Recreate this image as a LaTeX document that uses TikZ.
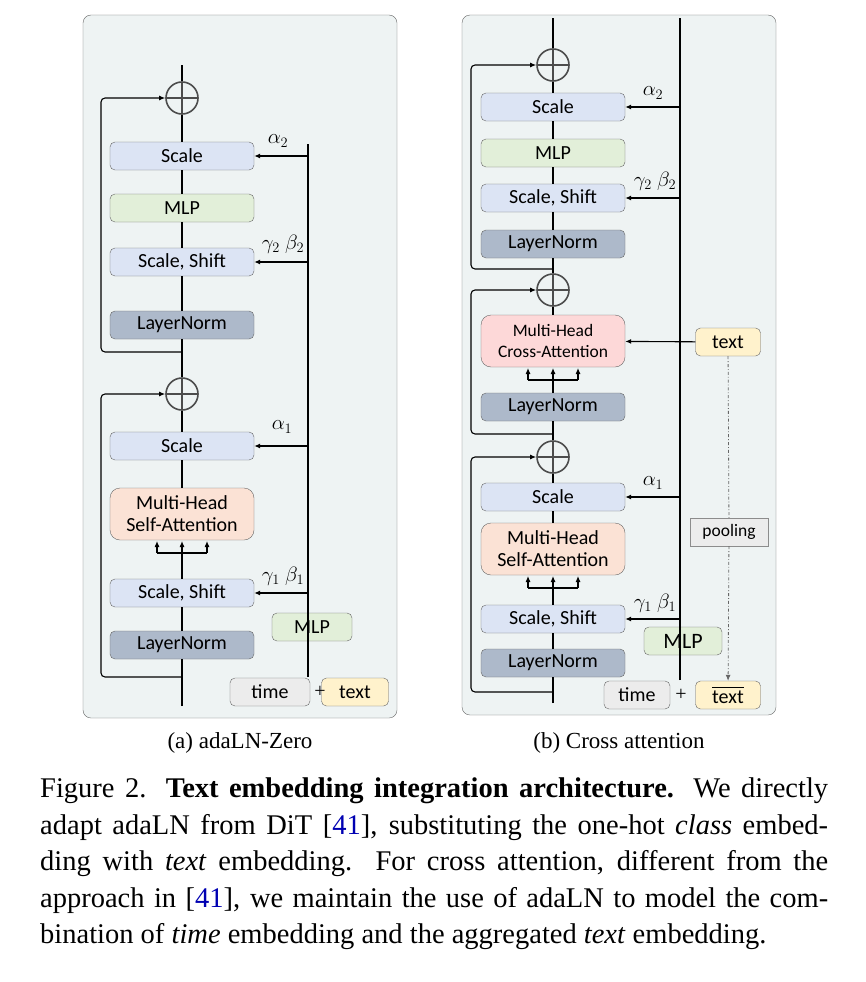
\documentclass[tikz,border=0pt]{standalone}
\usepackage{amsmath,amssymb}
\usepackage{fontspec}
\setmainfont{Liberation Serif}
\newfontfamily\boxfont{Carlito}
\usepackage{tikz}
\usetikzlibrary{arrows.meta}

\definecolor{panelbg}{HTML}{EEF3F3}
\definecolor{scalecol}{HTML}{DCE4F4}
\definecolor{mlpcol}{HTML}{E2EFD9}
\definecolor{normcol}{HTML}{ADB9CA}
\definecolor{selfcol}{HTML}{FBE2D5}
\definecolor{crosscol}{HTML}{FDD8D8}
\definecolor{textcol}{HTML}{FFF2CC}
\definecolor{timecol}{HTML}{ECECEC}

\tikzset{
    blk/.style={draw=black!60, rounded corners=5pt, minimum width=144pt, minimum height=28pt,
        inner sep=0pt, font=\boxfont\fontsize{20}{22}\selectfont, align=center},
    small/.style={draw=black!60, rounded corners=5pt, minimum height=28pt,
        inner sep=0pt, font=\boxfont\fontsize{20}{22}\selectfont},
    plus/.style={draw=black!70, circle, line width=1.6pt, minimum size=32pt, inner sep=0pt,
        path picture={\draw[black!70, line width=1.6pt]
            (path picture bounding box.north) -- (path picture bounding box.south)
            (path picture bounding box.west) -- (path picture bounding box.east);}},
    ln/.style={line width=1.1pt},
    arr/.style={line width=1.1pt, -{Latex[length=6pt,width=5pt]}},
    lbl/.style={font=\fontsize{20}{22}\selectfont},
}

\begin{document}
\begin{tikzpicture}[x=1pt,y=-1pt]
\useasboundingbox (0,0) rectangle (866,982);

% panels
\draw[black!60, fill=panelbg, rounded corners=8pt] (83,15) rectangle (397,718);
\draw[black!60, fill=panelbg, rounded corners=8pt] (462,15) rectangle (776,715);

% ===== (a) adaLN-Zero =====
\node[plus] (aadd2) at (182,98) {};
\node[blk, fill=scalecol] (ascale2) at (182,156) {Scale};
\node[blk, fill=mlpcol] (amlp2) at (182,208) {MLP};
\node[blk, fill=scalecol] (ass2) at (182,262) {Scale, Shift};
\node[blk, fill=normcol] (anorm2) at (182,325) {LayerNorm};
\node[plus] (aadd1) at (182,394) {};
\node[blk, fill=scalecol] (ascale1) at (182,446) {Scale};
\node[blk, fill=selfcol, minimum height=52pt, rounded corners=10pt] (aattn) at (182,514) {Multi-Head\\Self-Attention};
\node[blk, fill=scalecol] (ass1) at (182,593) {Scale, Shift};
\node[blk, fill=normcol] (anorm1) at (182,645) {LayerNorm};
\node[small, fill=mlpcol, minimum width=80pt] (amlp) at (312,627) {MLP};
\node[small, fill=timecol, minimum width=80pt] (atime) at (270,692) {time};
\node[small, fill=textcol, minimum width=67pt] (atext) at (355,692) {text};
\node[lbl] (aplusop) at (320,692) {+};
\coordinate (abot) at (182,706);
\coordinate (atop) at (182,65);
\coordinate (afork) at (182,553);
\coordinate (aside) at (308,677);
\coordinate (asidetop) at (308,144);

% main stream
\draw[ln] (abot) -- (anorm1) -- (ass1) -- (afork);
\draw[ln] (aattn) -- (ascale1) -- (aadd1) -- (anorm2) -- (ass2) -- (amlp2) -- (ascale2) -- (aadd2) -- (atop);
\foreach \x in {-25,0,25} {
    \draw[arr] ({182+\x},553) -- ({182+\x},541);
}
\draw[ln] (157,553) -- (207,553);
% residuals
\draw[arr, rounded corners=4pt] (182,677) -- (101,677) -- (101,394) -- (aadd1.west);
\draw[arr, rounded corners=4pt] (182,352) -- (101,352) -- (101,98) -- (aadd2.west);
% conditioning
\draw[ln] (aside) -- (asidetop);
\draw[arr] (308,156) -- (ascale2.east);
\draw[arr] (308,262) -- (ass2.east);
\draw[arr] (308,446) -- (ascale1.east);
\draw[arr] (308,593) -- (ass1.east);
\node[lbl] (aalpha2) at (278,141) {$\alpha_2$};
\node[lbl] (agb2) at (283,244) {$\gamma_2\ \beta_2$};
\node[lbl] (aalpha1) at (282,427) {$\alpha_1$};
\node[lbl] (agb1) at (283,576) {$\gamma_1\ \beta_1$};

% ===== (b) Cross attention =====
\node[plus] (badd3) at (553,65) {};
\node[blk, fill=scalecol] (bscale2) at (553,107) {Scale};
\node[blk, fill=mlpcol] (bmlp2) at (553,153) {MLP};
\node[blk, fill=scalecol] (bss2) at (553,198) {Scale, Shift};
\node[blk, fill=normcol] (bnorm3) at (553,244) {LayerNorm};
\node[plus] (badd2) at (553,290) {};
\node[blk, fill=crosscol, minimum height=52pt, rounded corners=10pt, font=\boxfont\fontsize{17.5}{21}\selectfont] (bcross) at (553,341) {Multi-Head\\Cross-Attention};
\node[blk, fill=normcol] (bnorm2) at (553,407) {LayerNorm};
\node[plus] (badd1) at (553,457) {};
\node[blk, fill=scalecol] (bscale1) at (553,497) {Scale};
\node[blk, fill=selfcol, minimum height=52pt, rounded corners=10pt] (battn) at (553,549) {Multi-Head\\Self-Attention};
\node[blk, fill=scalecol] (bss1) at (553,619) {Scale, Shift};
\node[blk, fill=normcol] (bnorm1) at (553,663) {LayerNorm};
\node[small, fill=mlpcol, minimum width=78pt, font=\boxfont\fontsize{22}{24}\selectfont] (bmlp) at (683,641) {MLP};
\node[small, fill=textcol, minimum width=65pt] (btext) at (728,342) {text};
\node[draw=black!45, fill=timecol, minimum width=78pt, minimum height=28pt, inner sep=0pt,
    font=\boxfont\fontsize{17.5}{19}\selectfont] (bpool) at (729,532) {pooling};
\node[small, fill=timecol, minimum width=66pt] (btime) at (637,695) {time};
\node[small, fill=textcol, minimum width=65pt] (btextbar) at (728,695) {$\overline{\text{\boxfont text}}$};
\node[lbl] (bplusop) at (681,695) {+};
\coordinate (bbot) at (553,703);
\coordinate (btop) at (553,18);
\coordinate (bforkc) at (553,380);
\coordinate (bforks) at (553,588);
\coordinate (bside) at (680,680);
\coordinate (bsidetop) at (680,18);

% main stream
\draw[ln] (bbot) -- (bnorm1) -- (bss1) -- (bforks);
\draw[ln] (battn) -- (bscale1) -- (badd1) -- (bnorm2) -- (bforkc);
\draw[ln] (bcross) -- (badd2) -- (bnorm3) -- (bss2) -- (bmlp2) -- (bscale2) -- (badd3) -- (btop);
\foreach \x in {-25,0,25} {
    \draw[arr] ({553+\x},380) -- ({553+\x},368);
    \draw[arr] ({553+\x},588) -- ({553+\x},576);
}
\draw[ln] (528,380) -- (578,380);
\draw[ln] (528,588) -- (578,588);
% residuals
\draw[arr, rounded corners=4pt] (553,692) -- (471,692) -- (471,457) -- (badd1.west);
\draw[arr, rounded corners=4pt] (553,434) -- (471,434) -- (471,290) -- (badd2.west);
\draw[arr, rounded corners=4pt] (553,269) -- (471,269) -- (471,65) -- (badd3.west);
% conditioning
\draw[ln] (bside) -- (bsidetop);
\draw[arr] (680,107) -- (bscale2.east);
\draw[arr] (680,198) -- (bss2.east);
\draw[arr] (680,497) -- (bscale1.east);
\draw[arr] (680,619) -- (bss1.east);
\draw[arr] (btext) -- (bcross);
\draw[black!60, line width=0.8pt, dash dot] (btext) -- (bpool);
\draw[black!60, line width=0.8pt, dash dot, -{Latex[length=6pt,width=5pt]}] (bpool) -- (btextbar);
\node[lbl] (balpha2) at (653,93) {$\alpha_2$};
\node[lbl] (bgb2) at (655,181) {$\gamma_2\ \beta_2$};
\node[lbl] (balpha1) at (653,483) {$\alpha_1$};
\node[lbl] (bgb1) at (655,603) {$\gamma_1\ \beta_1$};

% captions
\node[font=\fontsize{23}{26}\selectfont] (capa) at (240,743) {(a) adaLN-Zero};
\node[font=\fontsize{23}{26}\selectfont] (capb) at (619,743) {(b) Cross attention};
\node[anchor=north west, text width=788pt, align=justify, inner sep=0pt,
    font=\fontsize{28.5}{36.5}\selectfont] (caption) at (40,778)
    {Figure 2. \textbf{Text embedding integration architecture.} We directly\linebreak adapt adaLN from DiT [\textcolor{blue!70!black}{41}], substituting the one-hot \textit{class} embed-\linebreak ding with \textit{text} embedding. For cross attention, different from the\linebreak approach in [\textcolor{blue!70!black}{41}], we maintain the use of adaLN to model the com-\linebreak bination of \textit{time} embedding and the aggregated \textit{text} embedding.};
\end{tikzpicture}
\end{document}
